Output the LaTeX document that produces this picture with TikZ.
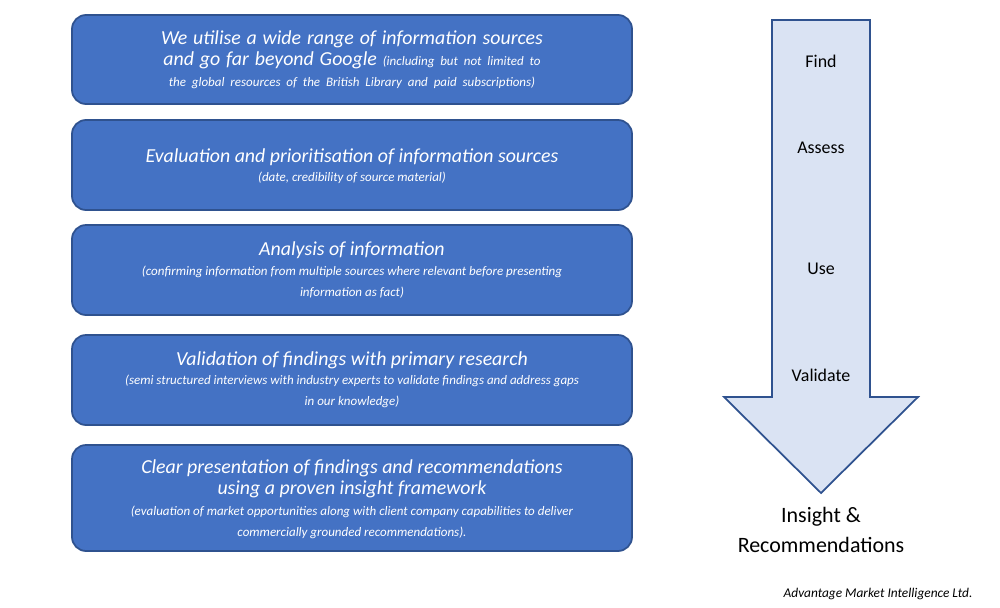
\documentclass[tikz,border=0pt]{standalone}
\usepackage{fontspec}
\setmainfont{Carlito}
\definecolor{boxfill}{HTML}{4472C4}
\definecolor{boxline}{HTML}{2F528F}
\definecolor{arrfill}{HTML}{DAE3F3}
\begin{document}
\begin{tikzpicture}[x=0.02cm,y=-0.02cm,
  stepbox/.style={draw=boxline,line width=1pt,fill=boxfill,rounded corners=8pt,text=white,align=center,font=\itshape},
  tt/.style={font=\fontsize{11.3}{13}\selectfont\itshape},
  lbl/.style={font=\fontsize{10.2}{12}\selectfont}]
\useasboundingbox (0,0) rectangle (1000,608);
\foreach \n/\a/\b in {b1/15/104,b2/120/210,b3/225/315,b4/335/425,b5/445/551}
  \draw[stepbox] (72,\a) rectangle (632,\b);
\node[text=white,align=center,text width=10.6cm] (t1) at (352,60) {{\fontsize{11.3}{14}\selectfont\itshape We utilise a wide range of information sources and go far beyond Google} {\fontsize{7.4}{11}\selectfont\itshape (including but not limited to the global resources of the British Library and paid subscriptions)}};
\node[text=white,align=center] (t2) at (352,166) {{\fontsize{11.3}{14}\selectfont\itshape Evaluation and prioritisation of information sources}\\[-1pt]{\fontsize{7.4}{9}\selectfont\itshape (date, credibility of source material)}};
\node[text=white,align=center] (t3) at (352,270) {{\fontsize{11.3}{14}\selectfont\itshape Analysis of information}\\[-1pt]{\fontsize{7.4}{10}\selectfont\itshape (confirming information from multiple sources where relevant before presenting}\\{\fontsize{7.4}{10}\selectfont\itshape information as fact)}};
\node[text=white,align=center] (t4) at (352,380) {{\fontsize{11.3}{14}\selectfont\itshape Validation of findings with primary research}\\[-1pt]{\fontsize{7.4}{10}\selectfont\itshape (semi structured interviews with industry experts to validate findings and address gaps}\\{\fontsize{7.4}{10}\selectfont\itshape in our knowledge)}};
\node[text=white,align=center] (t5) at (352,499) {{\fontsize{11.3}{14}\selectfont\itshape Clear presentation of findings and recommendations}\\{\fontsize{11.3}{14}\selectfont\itshape using a proven insight framework}\\{\fontsize{7.4}{10}\selectfont\itshape (evaluation of market opportunities along with client company capabilities to deliver}\\{\fontsize{7.4}{10}\selectfont\itshape commercially grounded recommendations).}};
\draw[draw=boxline,line width=1pt,fill=arrfill] (772,20) -- (870,20) -- (870,397) -- (918,397) -- (821,493) -- (724,397) -- (772,397) -- cycle;
\node[lbl] (find) at (821,61) {Find};
\node[lbl] (assess) at (821,148) {Assess};
\node[lbl] (use) at (821,269) {Use};
\node[lbl] (val) at (821,375) {Validate};
\node[align=center,font=\fontsize{12.5}{17}\selectfont] (ins) at (821,530) {Insight \&\\Recommendations};
\node[font=\fontsize{7.6}{9}\selectfont\itshape] (foot) at (878,594) {Advantage Market Intelligence Ltd.};
\end{tikzpicture}
\end{document}
